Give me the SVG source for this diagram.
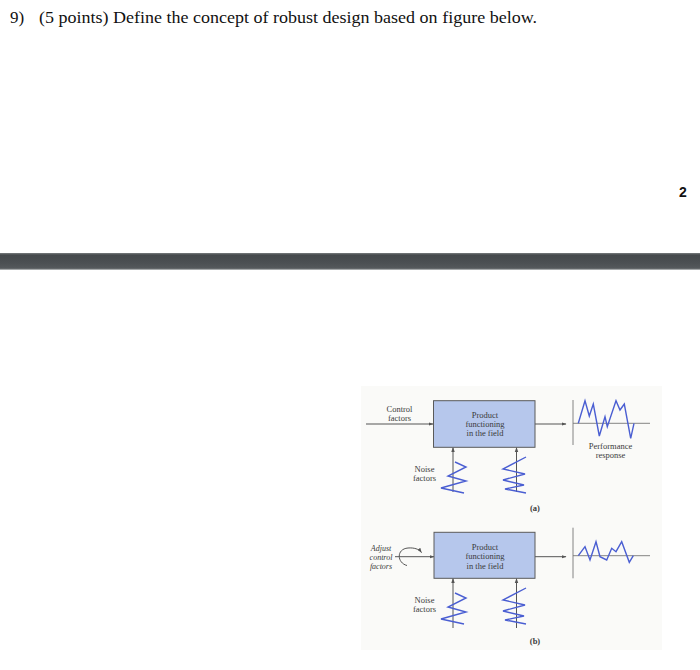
<svg xmlns="http://www.w3.org/2000/svg" width="700" height="670" viewBox="0 0 700 670">
<defs>
<linearGradient id="bar" x1="0" y1="0" x2="0" y2="1">
<stop offset="0" stop-color="#7a7e80"/>
<stop offset="0.12" stop-color="#45494c"/>
<stop offset="0.6" stop-color="#4c5053"/>
<stop offset="0.9" stop-color="#55595c"/>
<stop offset="1" stop-color="#c8cacb"/>
</linearGradient>
<marker id="ah" viewBox="0 0 10 10" refX="9" refY="5" markerWidth="5" markerHeight="5" orient="auto" markerUnits="userSpaceOnUse">
<path d="M0,1.5 L10,5 L0,8.5 z" fill="#555"/>
</marker>
<style>
.t{font-family:"Liberation Serif","Times New Roman",serif;fill:#111}
.d{font-family:"Liberation Serif","Times New Roman",serif;fill:#3a3a3a;font-size:8.5px;text-anchor:middle}
.i{font-style:italic;font-size:8px}
.box{fill:#b6c7ec;stroke:#5a5a5a;stroke-width:1}
.ln{stroke:#555;stroke-width:1;fill:none}
.wave{stroke:#4a5ed2;stroke-width:1.4;fill:none;stroke-linejoin:miter}
.ax{stroke:#777;stroke-width:0.9;fill:none}
</style>
</defs>
<rect width="700" height="670" fill="#fff"/>
<text class="t" x="10" y="23" font-size="17">9)</text>
<text class="t" x="39" y="23" font-size="17" textLength="498" lengthAdjust="spacingAndGlyphs">(5 points) Define the concept of robust design based on figure below.</text>
<text x="683" y="197" font-family="'Liberation Sans',Arial,sans-serif" font-weight="bold" font-size="14" fill="#111" text-anchor="middle">2</text>
<rect x="0" y="253" width="700" height="17" fill="url(#bar)"/>
<rect x="361" y="386" width="301" height="264" fill="#fafaf8"/>

<g id="connectors">
<line class="ln" x1="366" y1="424" x2="433" y2="424" marker-end="url(#ah)"/>
<line class="ln" x1="535" y1="424" x2="566" y2="424" marker-end="url(#ah)"/>
<line class="ln" x1="453" y1="492" x2="453" y2="447.5" marker-end="url(#ah)"/>
<line class="ln" x1="516.5" y1="492" x2="516.5" y2="447.5" marker-end="url(#ah)"/>
<line class="ln" x1="395" y1="556.7" x2="434" y2="556.7" marker-end="url(#ah)"/>
<line class="ln" x1="535" y1="556.7" x2="566" y2="556.7" marker-end="url(#ah)"/>
<line class="ln" x1="453" y1="628" x2="453" y2="578.5" marker-end="url(#ah)"/>
<line class="ln" x1="516.5" y1="628" x2="516.5" y2="578.5" marker-end="url(#ah)"/>
<path class="ln" d="M407 565.5 C397 563,396 549,408 548 C414 547.5,419 549,421.5 552.5" marker-end="url(#ah)"/>
</g>

<g id="box-a">
<rect class="box" x="433.5" y="400.7" width="101.5" height="46.6"/>
<text class="d" x="485" y="418">Product</text>
<text class="d" x="485" y="427">functioning</text>
<text class="d" x="485" y="436">in the field</text>
</g>
<g id="control-a">
<text class="d" x="399.5" y="412">Control</text>
<text class="d" x="399.5" y="420.5">factors</text>
</g>
<g id="noise-a">
<text class="d" x="424.5" y="472">Noise</text>
<text class="d" x="424.5" y="480.5">factors</text>
<polyline class="wave" points="455,462 466,467 448,476 466,481 441,488 464,493"/>
<polyline class="wave" points="526,457 503,469 525,474 503,480 524,485 505,489 526,493"/>
</g>
<g id="response-a">
<line class="ax" x1="573" y1="400" x2="573" y2="445"/>
<line class="ax" x1="573" y1="423.3" x2="650" y2="423.3"/>
<polyline class="wave" points="578.3,423.3 585,400.7 589.3,416 593.3,404 599.3,436 605,416.7 607.3,426.7 616,400.7 620,410 624.3,404 630.7,438.3 634,423.3"/>
<text class="d" x="610.5" y="449">Performance</text>
<text class="d" x="610.5" y="457.5">response</text>
</g>
<text class="d" x="535" y="510.5" font-size="6.5" font-weight="bold">(a)</text>

<g id="box-b">
<rect class="box" x="434" y="532.3" width="101" height="46"/>
<text class="d" x="485" y="550">Product</text>
<text class="d" x="485" y="559">functioning</text>
<text class="d" x="485" y="568.5">in the field</text>
</g>
<g id="adjust-b">
<text class="d i" x="381" y="550.5">Adjust</text>
<text class="d i" x="381" y="559.5">control</text>
<text class="d i" x="381" y="568.5">factors</text>
</g>
<g id="noise-b">
<text class="d" x="424.5" y="603">Noise</text>
<text class="d" x="424.5" y="612">factors</text>
<polyline class="wave" points="455,593 466,598 448,607 466,612 441,619 464,624"/>
<polyline class="wave" points="526,588 503,600 525,605 503,611 524,616 505,620 526,624"/>
</g>
<g id="response-b">
<line class="ax" x1="573" y1="527.7" x2="573" y2="578.3"/>
<line class="ax" x1="573" y1="555.7" x2="650" y2="555.7"/>
<polyline class="wave" points="578.3,555.7 585,546.7 590,560 596,541.7 600,556.7 606.7,560 611.7,548.3 616,551.7 621.7,541.7 629.3,562.3 633.3,555.7"/>
</g>
<text class="d" x="535" y="643.5" font-size="6.5" font-weight="bold">(b)</text>
</svg>
